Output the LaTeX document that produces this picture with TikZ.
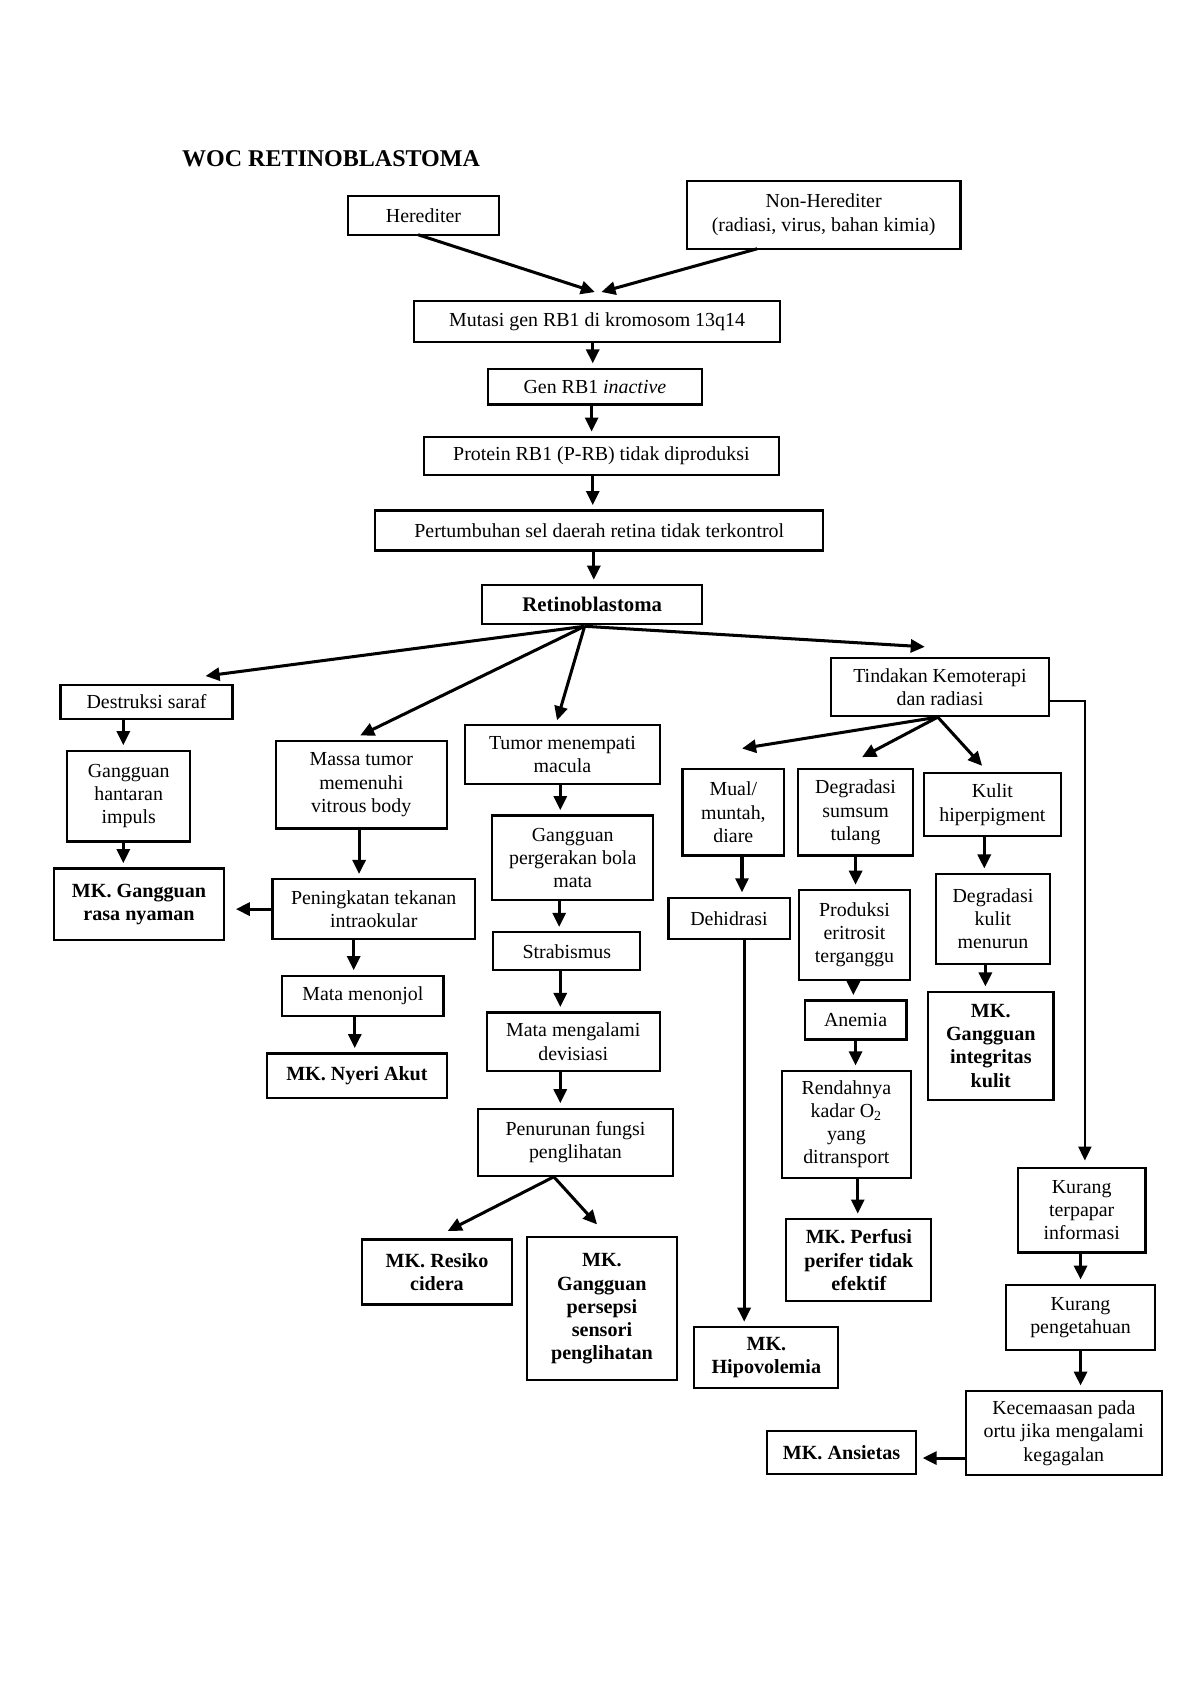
\documentclass[tikz,border=0pt]{standalone}
\usepackage{fontspec}
\setmainfont{Liberation Serif}
\usetikzlibrary{arrows.meta,calc}
\newcommand\bx[7][]{\node[box,#1,minimum width={(#5-#3)*0.5pt},minimum height={(#6-#4)*0.5pt}] (#2) at ({(#3+#5)/2},{(#4+#6)/2}) {#7};}
\tikzset{
  box/.style={draw, line width=1pt, inner sep=0pt, outer sep=0pt, align=center, font=\fontsize{9.2}{10.7}\selectfont},
  mk/.style={font=\fontsize{9.3}{10.7}\selectfont\bfseries},
  arr/.style={-{Triangle[length=6.5pt,width=6pt]}, line width=1.4pt},
  gap/.style={shorten >=2.5pt}
}
\begin{document}
\begin{tikzpicture}[x=0.5pt,y=-0.5pt]
\fill[white] (0,0) rectangle (1109,1568);
\useasboundingbox (0,0) rectangle (1109,1568);
\node[font=\fontsize{11.1}{13}\selectfont\bfseries, anchor=west, inner sep=0pt] (title) at (168,147) {WOC RETINOBLASTOMA};
\bx{her}{322}{181}{461}{217}{Herediter}
\bx{non}{635}{167}{888}{230}{Non-Herediter\\(radiasi, virus, bahan kimia)}
\bx{mut}{383}{278}{721}{316}{Mutasi gen RB1 di kromosom 13q14}
\bx{gen}{451}{341}{649}{374}{Gen RB1 \textit{inactive}}
\bx{pro}{392}{404}{720}{439}{Protein RB1 (P-RB) tidak diproduksi}
\bx{per}{347}{472}{761}{509}{Pertumbuhan sel daerah retina tidak terkontrol}
\bx[font=\fontsize{9.6}{11}\selectfont\bfseries]{rb}{446}{541}{649}{577}{Retinoblastoma}
\bx{des}{56}{633}{215}{665}{Destruksi saraf}
\bx{ghi}{62}{694}{176}{778}{Gangguan\\hantaran\\impuls}
\bx[mk]{mkrn}{50}{803}{207}{869}{MK. Gangguan\\rasa nyaman}
\bx{mas}{255}{685}{413}{766}{Massa tumor\\memenuhi\\vitrous body}
\bx{pen}{252}{813}{439}{868}{Peningkatan tekanan\\intraokular}
\bx{mon}{261}{902}{410}{939}{Mata menonjol}
\bx[mk]{nye}{247}{974}{413}{1015}{MK. Nyeri Akut}
\bx{tum}{430}{670}{610}{725}{Tumor menempati\\macula}
\bx{gpb}{455}{754}{604}{832}{Gangguan\\pergerakan bola\\mata}
\bx{str}{456}{862}{592}{897}{Strabismus}
\bx{dev}{450}{936}{610}{990}{Mata mengalami\\devisiasi}
\bx{pfp}{442}{1025}{622}{1087}{Penurunan fungsi\\penglihatan}
\bx[mk]{res}{335}{1146}{473}{1206}{MK. Resiko\\cidera}
\bx[mk]{gps}{487}{1144}{626}{1276}{MK.\\Gangguan\\persepsi\\sensori\\penglihatan}
\bx{tin}{768}{608}{970}{662}{Tindakan Kemoterapi\\dan radiasi}
\bx{mua}{631}{711}{725}{791}{Mual/\\muntah,\\diare}
\bx{deh}{618}{830}{730}{868}{Dehidrasi}
\bx[mk]{hip}{642}{1227}{775}{1283}{MK.\\Hipovolemia}
\bx{dss}{738}{711}{844}{791}{Degradasi\\sumsum\\tulang}
\bx{pet}{739}{823}{841}{906}{Produksi\\eritrosit\\terganggu}
\bx{ane}{744}{925}{838}{961}{Anemia}
\bx{ren}{723}{990}{842}{1089}{Rendahnya\\kadar O\textsubscript{2}\\yang\\ditransport}
\bx[mk]{prf}{727}{1127}{861}{1203}{MK. Perfusi\\perifer tidak\\efektif}
\bx{kul}{854}{715}{981}{773}{Kulit\\hiperpigment}
\bx{dkm}{865}{808}{971}{891}{Degradasi\\kulit\\menurun}
\bx[mk]{gik}{858}{917}{974}{1017}{MK.\\Gangguan\\integritas\\kulit}
\bx{kti}{941}{1080}{1059}{1158}{Kurang\\terpapar\\informasi}
\bx{kpe}{930}{1188}{1068}{1248}{Kurang\\pengetahuan}
\bx{kec}{893}{1286}{1074}{1364}{Kecemaasan pada\\ortu jika mengalami\\kegagalan}
\bx[mk]{ans}{709}{1323}{847}{1363}{MK. Ansietas}
% top
\draw[arr] ([shift={(-5,0)}]her.south) -- ([shift={(-2,-8)}]mut.north);
\draw[arr] ([shift={(-61.5,0)}]non.south) -- ([shift={(4,-8)}]mut.north);
% verticals
\draw[arr,gap] (mut.south -| 548,0) -- (gen.north -| 548,0);
\draw[arr,gap] (gen.south -| 547,0) -- (pro.north -| 547,0);
\draw[arr,gap] (pro.south -| 548,0) -- (per.north -| 548,0);
\draw[arr,gap] (per.south -| 549,0) -- (rb.north -| 549,0);
\draw[arr,gap] (des.south -| 114,0) -- (ghi.north -| 114,0);
\draw[arr,gap] (ghi.south -| 114,0) -- (mkrn.north -| 114,0);
\draw[arr,gap] (mas.south -| 332,0) -- (pen.north -| 332,0);
\draw[arr,gap] (pen.south -| 327,0) -- (mon.north -| 327,0);
\draw[arr,gap] (mon.south -| 328,0) -- (nye.north -| 328,0);
\draw[arr,gap] (tum.south -| 518,0) -- (gpb.north -| 518,0);
\draw[arr,gap] (gpb.south -| 517,0) -- (str.north -| 517,0);
\draw[arr,gap] (str.south -| 518,0) -- (dev.north -| 518,0);
\draw[arr,gap] (dev.south -| 518,0) -- (pfp.north -| 518,0);
\draw[arr,gap] (mua.south -| 686,0) -- (deh.north -| 686,0);
\draw[arr,gap] (deh.south -| 688,0) -- (hip.north -| 688,0);
\draw[arr,gap] (dss.south -| 791,0) -- (pet.north -| 791,0);
\draw[arr,gap] (pet.south -| 789,0) -- (ane.north -| 789,0);
\draw[arr,gap] (ane.south -| 791,0) -- (ren.north -| 791,0);
\draw[arr,gap] (ren.south -| 793,0) -- (prf.north -| 793,0);
\draw[arr,gap] (kul.south -| 910,0) -- (dkm.north -| 910,0);
\draw[arr,gap] (dkm.south -| 911,0) -- (gik.north -| 911,0);
\draw[arr,gap] (kti.south -| 999,0) -- (kpe.north -| 999,0);
\draw[arr,gap] (kpe.south -| 999,0) -- (kec.north -| 999,0);
% fans
\draw[arr] ([shift={(-7,2)}]rb.south) -- ([shift={(54.5,-8)}]des.north);
\draw[arr] ([shift={(-7,2)}]rb.south) -- ([shift={(-1,-5)}]mas.north);
\draw[arr] ([shift={(-7,2)}]rb.south) -- ([shift={(-5,-4)}]tum.north);
\draw[arr] ([shift={(-7,2)}]rb.south) -- ([shift={(-14,-10)}]tin.north);
\draw[arr] ([shift={(-2,1)}]tin.south) -- ([shift={(8,-19)}]mua.north);
\draw[arr] ([shift={(-2,1)}]tin.south) -- ([shift={(6,-11)}]dss.north);
\draw[arr] ([shift={(-2,1)}]tin.south) -- ([shift={(-9.5,-7)}]kul.north);
\draw[arr] ([shift={(-20,1)}]pfp.south) -- ([shift={(10,-8)}]res.north);
\draw[arr] ([shift={(-20,1)}]pfp.south) -- ([shift={(-4.5,-12)}]gps.north);
% side arrows
\draw[arr,shorten >=5.5pt] (pen.west) -- (pen.west -| mkrn.east);
\draw[arr,shorten >=3pt] ([shift={(0,23)}]kec.west) -- ([shift={(0,23)}]kec.west -| ans.east);
\draw[arr,line width=1pt] ([shift={(0,13)}]tin.east) -| ([shift={(3,-7)}]kti.north);
\end{tikzpicture}
\end{document}
